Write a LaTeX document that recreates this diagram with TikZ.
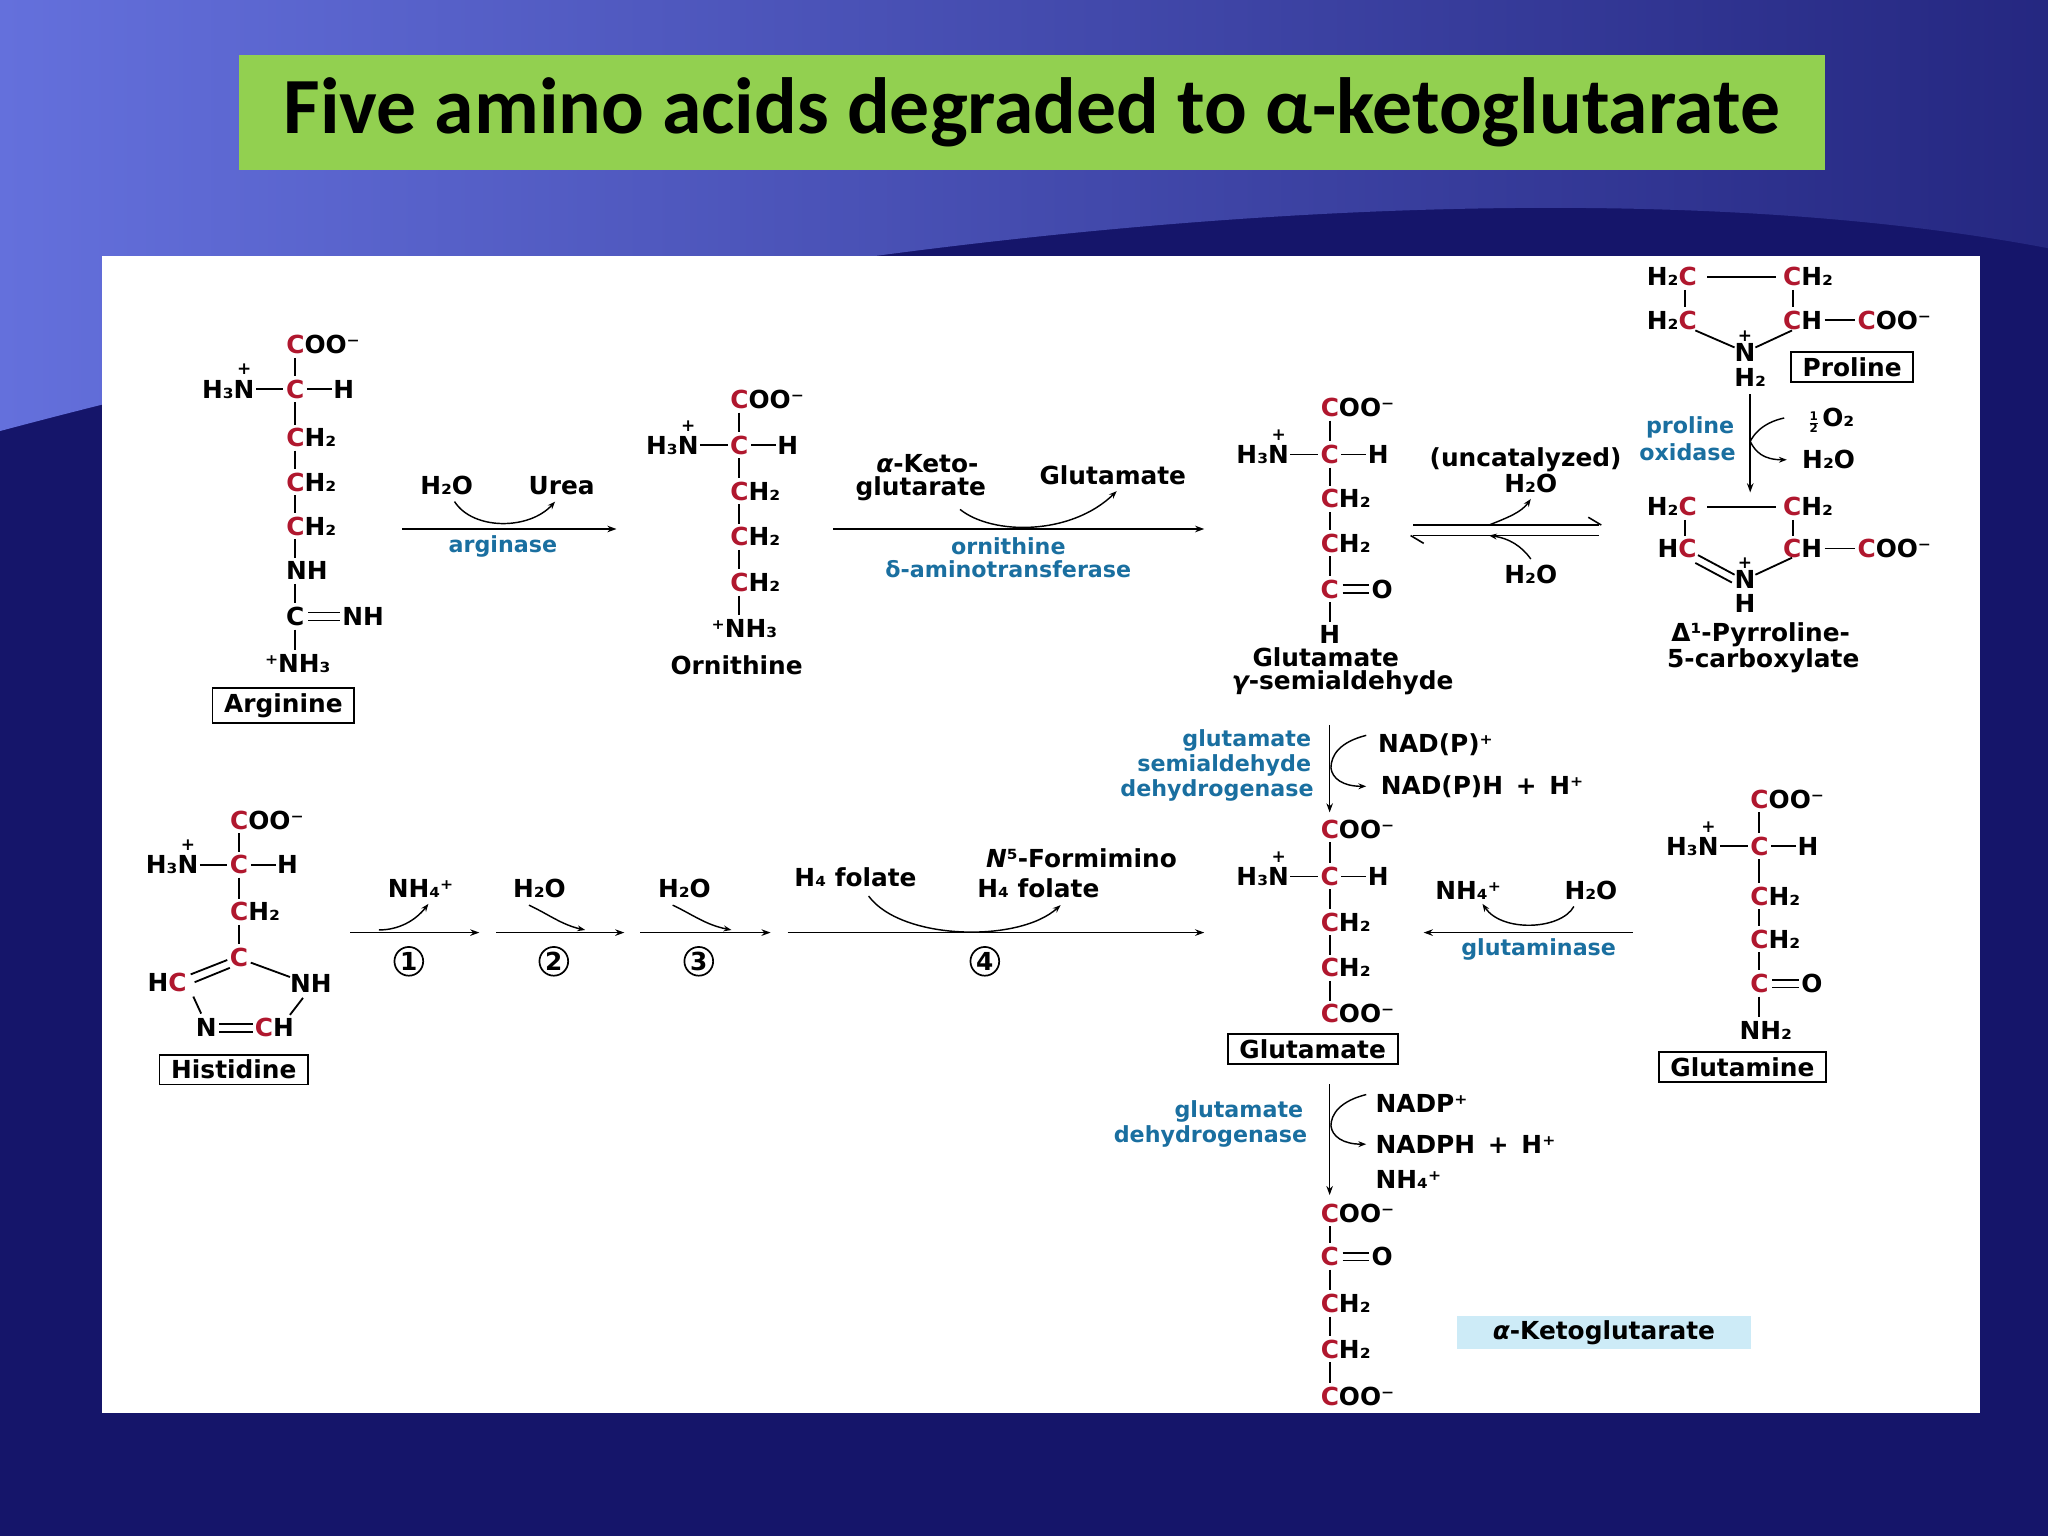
\documentclass[tikz,border=0pt]{standalone}
\usepackage{fontspec}
\setmainfont{DejaVu Sans}
\newfontfamily\titlefont{Carlito}
\usetikzlibrary{arrows.meta}
\definecolor{cred}{HTML}{B0172E}
\definecolor{cblue}{HTML}{1A6FA0}
\definecolor{tgreen}{HTML}{92D050}
\definecolor{navy}{HTML}{15156A}
\definecolor{lightblu}{HTML}{6470DC}
\definecolor{hl}{HTML}{CDEBF7}
\newcommand{\rc}{\textcolor{cred}{C}}
\tikzset{
 t/.style={inner sep=0pt,font=\fontsize{19}{21}\selectfont\bfseries},
 en/.style={t,text=cblue,font=\fontsize{17}{19}\selectfont\bfseries},
 bond/.style={line width=1.4pt},
 rx/.style={line width=1.2pt,-{Stealth[length=7pt,width=5pt]}},
 cv/.style={line width=1.1pt,-{Stealth[length=6pt,width=4.5pt]}},
 namebox/.style={t,draw,line width=1.4pt,inner xsep=9pt,inner ysep=4pt},
 circ/.style={t,draw,circle,line width=1.3pt,minimum size=22pt,inner sep=0pt}
}
\newcommand{\row}[3]{\node[t,anchor=west] at (#1-7,#2) {#3};}
\newcommand{\vb}[3]{\draw[bond] (#1,#2+10) -- (#1,#3-10);}
\newcommand{\aminorow}[2]{%
 \node[t,anchor=east] at (#1-31,#2) {H₃N};
 \node[t,font=\fontsize{13}{13}\selectfont\bfseries] at (#1-39,#2-15) {+};
 \draw[bond] (#1-30,#2)--(#1-9,#2);
 \node[t] at (#1,#2) {\rc};
 \draw[bond] (#1+9,#2)--(#1+28,#2);
 \node[t,anchor=west] at (#1+29,#2) {H};}
\begin{document}
\begin{tikzpicture}[x=1pt,y=-1pt]
\useasboundingbox (0,0) rectangle (1568,1176);
% background
\fill[navy] (0,0) rectangle (1568,1176);
\shade[left color=lightblu,right color=navy!80!lightblu] (0,0) -- (1568,0) -- (1568,190) .. controls (1200,120) and (600,170) .. (0,330) -- cycle;
\fill[white] (78,196) rectangle (1516,1082);
% title
\node[fill=tgreen,minimum width=1214pt,minimum height=88pt,inner sep=0pt,font=\titlefont\fontsize{61}{64}\selectfont\bfseries] (title) at (790,86) {Five amino acids degraded to α-ketoglutarate};

% ---------- Arginine
\row{226}{264}{\rc OO⁻}
\aminorow{226}{298}
\row{226}{335}{\rc H₂}
\row{226}{369}{\rc H₂}
\row{226}{403}{\rc H₂}
\node[t] at (235,437) {NH};
\node[t] at (226,472) {C};
\draw[bond] (236,469)--(260,469); \draw[bond] (236,475)--(260,475);
\node[t,anchor=west] at (262,472) {NH};
\node[t] at (228,508) {⁺NH₃};
\vb{226}{264}{298}\vb{226}{298}{335}\vb{226}{335}{369}\vb{226}{369}{403}\vb{226}{403}{437}\vb{226}{437}{472}\vb{226}{472}{508}
\node[namebox] (arg) at (217,540) {Arginine};

% arrow 1
\draw[rx] (308,405) -- (472,405);
\node[t] at (342,372) {H₂O};
\node[t] at (430,372) {Urea};
\node[en] at (385,418) {arginase};
\draw[cv] (348,384) .. controls (362,406) and (405,406) .. (425,384);

% ---------- Ornithine
\row{566}{306}{\rc OO⁻}
\aminorow{566}{341}
\row{566}{376}{\rc H₂}
\row{566}{411}{\rc H₂}
\row{566}{446}{\rc H₂}
\node[t] at (570,481) {⁺NH₃};
\vb{566}{306}{341}\vb{566}{341}{376}\vb{566}{376}{411}\vb{566}{411}{446}\vb{566}{446}{481}
\node[t] at (564,509) {Ornithine};

% arrow 2
\draw[rx] (638,405) -- (922,405);
\node[t] at (710,355) {\itshape α\upshape\bfseries-Keto-};
\node[t] at (705,374) {glutarate};
\node[t] at (852,364) {Glutamate};
\draw[cv] (735,390) .. controls (760,410) and (820,410) .. (855,376);
\node[en] at (772,418) {ornithine};
\node[en] at (772,436) {δ-aminotransferase};

% ---------- Glutamate semialdehyde
\row{1018}{312}{\rc OO⁻}
\aminorow{1018}{348}
\row{1018}{382}{\rc H₂}
\row{1018}{416}{\rc H₂}
\node[t] at (1018,451) {\rc};
\draw[bond] (1028,448)--(1048,448); \draw[bond] (1028,454)--(1048,454);
\node[t,anchor=west] at (1050,451) {O};
\node[t] at (1018,486) {H};
\vb{1018}{312}{348}\vb{1018}{348}{382}\vb{1018}{382}{416}\vb{1018}{416}{451}\vb{1018}{451}{486}
\node[t] at (1015,503) {Glutamate};
\node[t] at (1028,523) {\itshape γ\upshape\bfseries-semialdehyde};

% equilibrium
\draw[line width=1.2pt] (1082,402) -- (1224,402);
\draw[line width=1.2pt] (1216,396) -- (1226,402);
\draw[line width=1.2pt] (1082,410) -- (1224,410);
\draw[line width=1.2pt] (1090,416) -- (1080,410);
\node[t] at (1168,352) {(uncatalyzed)};
\node[t] at (1172,370) {H₂O};
\draw[cv] (1140,402) .. controls (1155,396) and (1165,392) .. (1172,382);
\node[t] at (1172,440) {H₂O};
\draw[cv] (1172,428) .. controls (1165,418) and (1155,412) .. (1140,410);

% ---------- Proline
\node[t] at (1280,212) {H₂\rc};
\node[t,anchor=west] at (1365,212) {\rc H₂};
\node[t] at (1280,245) {H₂\rc};
\node[t,anchor=west] at (1365,245) {\rc H};
\draw[bond] (1397,245)--(1420,245);
\node[t,anchor=west] at (1422,245) {\rc OO⁻};
\draw[bond] (1307,212)--(1360,212);
\vb{1290}{212}{245}\vb{1373}{212}{245}
\node[t] at (1336,270) {N};
\node[t,font=\fontsize{13}{13}\selectfont\bfseries] at (1336,257) {+};
\node[t] at (1340,289) {H₂};
\draw[bond] (1298,253)--(1328,266); \draw[bond] (1372,253)--(1344,266);
\node[namebox] (pro) at (1418,281) {Proline};
\draw[rx] (1340,302) -- (1340,377);
\node[en] at (1294,327) {proline};
\node[en] at (1292,346) {oxidase};
\node[t] at (1402,322) {\fontsize{13}{13}\selectfont$\mathbf{\frac{1}{2}}$\,\fontsize{19}{21}\selectfont O₂};
\node[t] at (1400,352) {H₂O};
\draw[line width=1.1pt] (1366,320) .. controls (1348,324) and (1342,334) .. (1340,338);
\draw[cv] (1340,338) .. controls (1344,346) and (1350,352) .. (1368,352);

% P5C
\node[t] at (1280,388) {H₂\rc};
\node[t,anchor=west] at (1365,388) {\rc H₂};
\node[t] at (1284,420) {H\rc};
\node[t,anchor=west] at (1365,420) {\rc H};
\draw[bond] (1397,420)--(1420,420);
\node[t,anchor=west] at (1422,420) {\rc OO⁻};
\draw[bond] (1307,388)--(1360,388);
\vb{1290}{388}{420}\vb{1373}{388}{420}
\node[t] at (1336,444) {N};
\node[t,font=\fontsize{13}{13}\selectfont\bfseries] at (1336,431) {+};
\node[t] at (1336,462) {H};
\draw[bond] (1300,425)--(1328,440); \draw[bond] (1298,431)--(1326,446);
\draw[bond] (1372,427)--(1344,440);
\node[t] at (1348,486) {Δ¹-Pyrroline-};
\node[t] at (1350,506) {5-carboxylate};

% arrow down 1
\draw[rx] (1018,555) -- (1018,622);
\node[en,anchor=east] at (1004,567) {glutamate};
\node[en,anchor=east] at (1004,586) {semialdehyde};
\node[en,anchor=east] at (1006,605) {dehydrogenase};
\node[t,anchor=west] at (1055,570) {NAD(P)⁺};
\node[t,anchor=west] at (1057,602) {NAD(P)H \,+\, H⁺};
\draw[line width=1.1pt] (1046,563) .. controls (1026,568) and (1019,578) .. (1019,588);
\draw[cv] (1019,588) .. controls (1020,596) and (1028,602) .. (1046,602);

% ---------- Glutamate
\row{1018}{635}{\rc OO⁻}
\aminorow{1018}{671}
\row{1018}{706}{\rc H₂}
\row{1018}{741}{\rc H₂}
\row{1018}{776}{\rc OO⁻}
\vb{1018}{635}{671}\vb{1018}{671}{706}\vb{1018}{706}{741}\vb{1018}{741}{776}
\node[namebox] (glu) at (1005,803) {Glutamate};

% ---------- Histidine
\row{183}{628}{\rc OO⁻}
\aminorow{183}{662}
\row{183}{698}{\rc H₂}
\node[t] at (183,733) {\rc};
\vb{183}{628}{662}\vb{183}{662}{698}\vb{183}{698}{733}
\node[t] at (128,752) {H\rc};
\node[t] at (238,753) {NH};
\node[t] at (158,787) {N};
\node[t] at (210,787) {\rc H};
\draw[bond] (146,746)--(174,735); \draw[bond] (149,752)--(176,741);
\draw[bond] (192,737)--(222,748);
\draw[bond] (148,763)--(154,776);
\draw[bond] (232,764)--(222,777);
\draw[bond] (168,784)--(194,784); \draw[bond] (168,790)--(194,790);
\node[namebox] (his) at (179,819) {Histidine};

% histidine arrows
\draw[rx] (268,714) -- (367,714);
\node[t] at (322,680) {NH₄⁺};
\draw[cv] (290,712) .. controls (305,712) and (318,705) .. (328,692);
\node[circ] at (313,736) {1};
\draw[rx] (380,714) -- (478,714);
\node[t] at (413,680) {H₂O};
\draw[cv] (405,693) .. controls (420,700) and (430,708) .. (448,712);
\node[circ] at (424,736) {2};
\draw[rx] (490,714) -- (590,714);
\node[t] at (524,680) {H₂O};
\draw[cv] (515,693) .. controls (530,700) and (540,708) .. (560,712);
\node[circ] at (535,736) {3};
\draw[rx] (603,714) -- (922,714);
\node[t] at (655,672) {H₄ folate};
\node[t] at (828,657) {\itshape N\upshape\bfseries⁵-Formimino};
\node[t] at (795,680) {H₄ folate};
\draw[cv] (665,686) .. controls (690,720) and (780,722) .. (812,693);
\node[circ] at (754,736) {4};

% ---------- Glutamine
\row{1347}{612}{\rc OO⁻}
\aminorow{1347}{648}
\row{1347}{686}{\rc H₂}
\row{1347}{719}{\rc H₂}
\node[t] at (1347,753) {\rc};
\draw[bond] (1357,750)--(1377,750); \draw[bond] (1357,756)--(1377,756);
\node[t,anchor=west] at (1379,753) {O};
\node[t] at (1352,789) {NH₂};
\vb{1347}{612}{648}\vb{1347}{648}{686}\vb{1347}{686}{719}\vb{1347}{719}{753}\vb{1347}{753}{789}
\node[namebox] (gln) at (1334,817) {Glutamine};
\draw[rx] (1250,714) -- (1090,714);
\node[t] at (1124,682) {NH₄⁺};
\node[t] at (1218,682) {H₂O};
\draw[cv] (1205,694) .. controls (1195,712) and (1150,714) .. (1135,692);
\node[en] at (1178,727) {glutaminase};

% arrow down 2
\draw[rx] (1018,830) -- (1018,915);
\node[en,anchor=east] at (998,851) {glutamate};
\node[en,anchor=east] at (1001,870) {dehydrogenase};
\node[t,anchor=west] at (1053,845) {NADP⁺};
\node[t,anchor=west] at (1053,876) {NADPH \,+\, H⁺};
\node[t,anchor=west] at (1053,903) {NH₄⁺};
\draw[line width=1.1pt] (1046,838) .. controls (1026,843) and (1019,853) .. (1019,862);
\draw[cv] (1019,862) .. controls (1020,870) and (1028,876) .. (1046,876);

% ---------- alpha-ketoglutarate
\row{1018}{929}{\rc OO⁻}
\node[t] at (1018,962) {\rc};
\draw[bond] (1028,959)--(1048,959); \draw[bond] (1028,965)--(1048,965);
\node[t,anchor=west] at (1050,962) {O};
\row{1018}{998}{\rc H₂}
\row{1018}{1033}{\rc H₂}
\row{1018}{1069}{\rc OO⁻}
\vb{1018}{929}{962}\vb{1018}{962}{998}\vb{1018}{998}{1033}\vb{1018}{1033}{1069}
\node[t,fill=hl,minimum width=225pt,minimum height=25pt] (akg) at (1228,1020) {\itshape α\upshape\bfseries-Ketoglutarate};
\end{tikzpicture}
\end{document}
